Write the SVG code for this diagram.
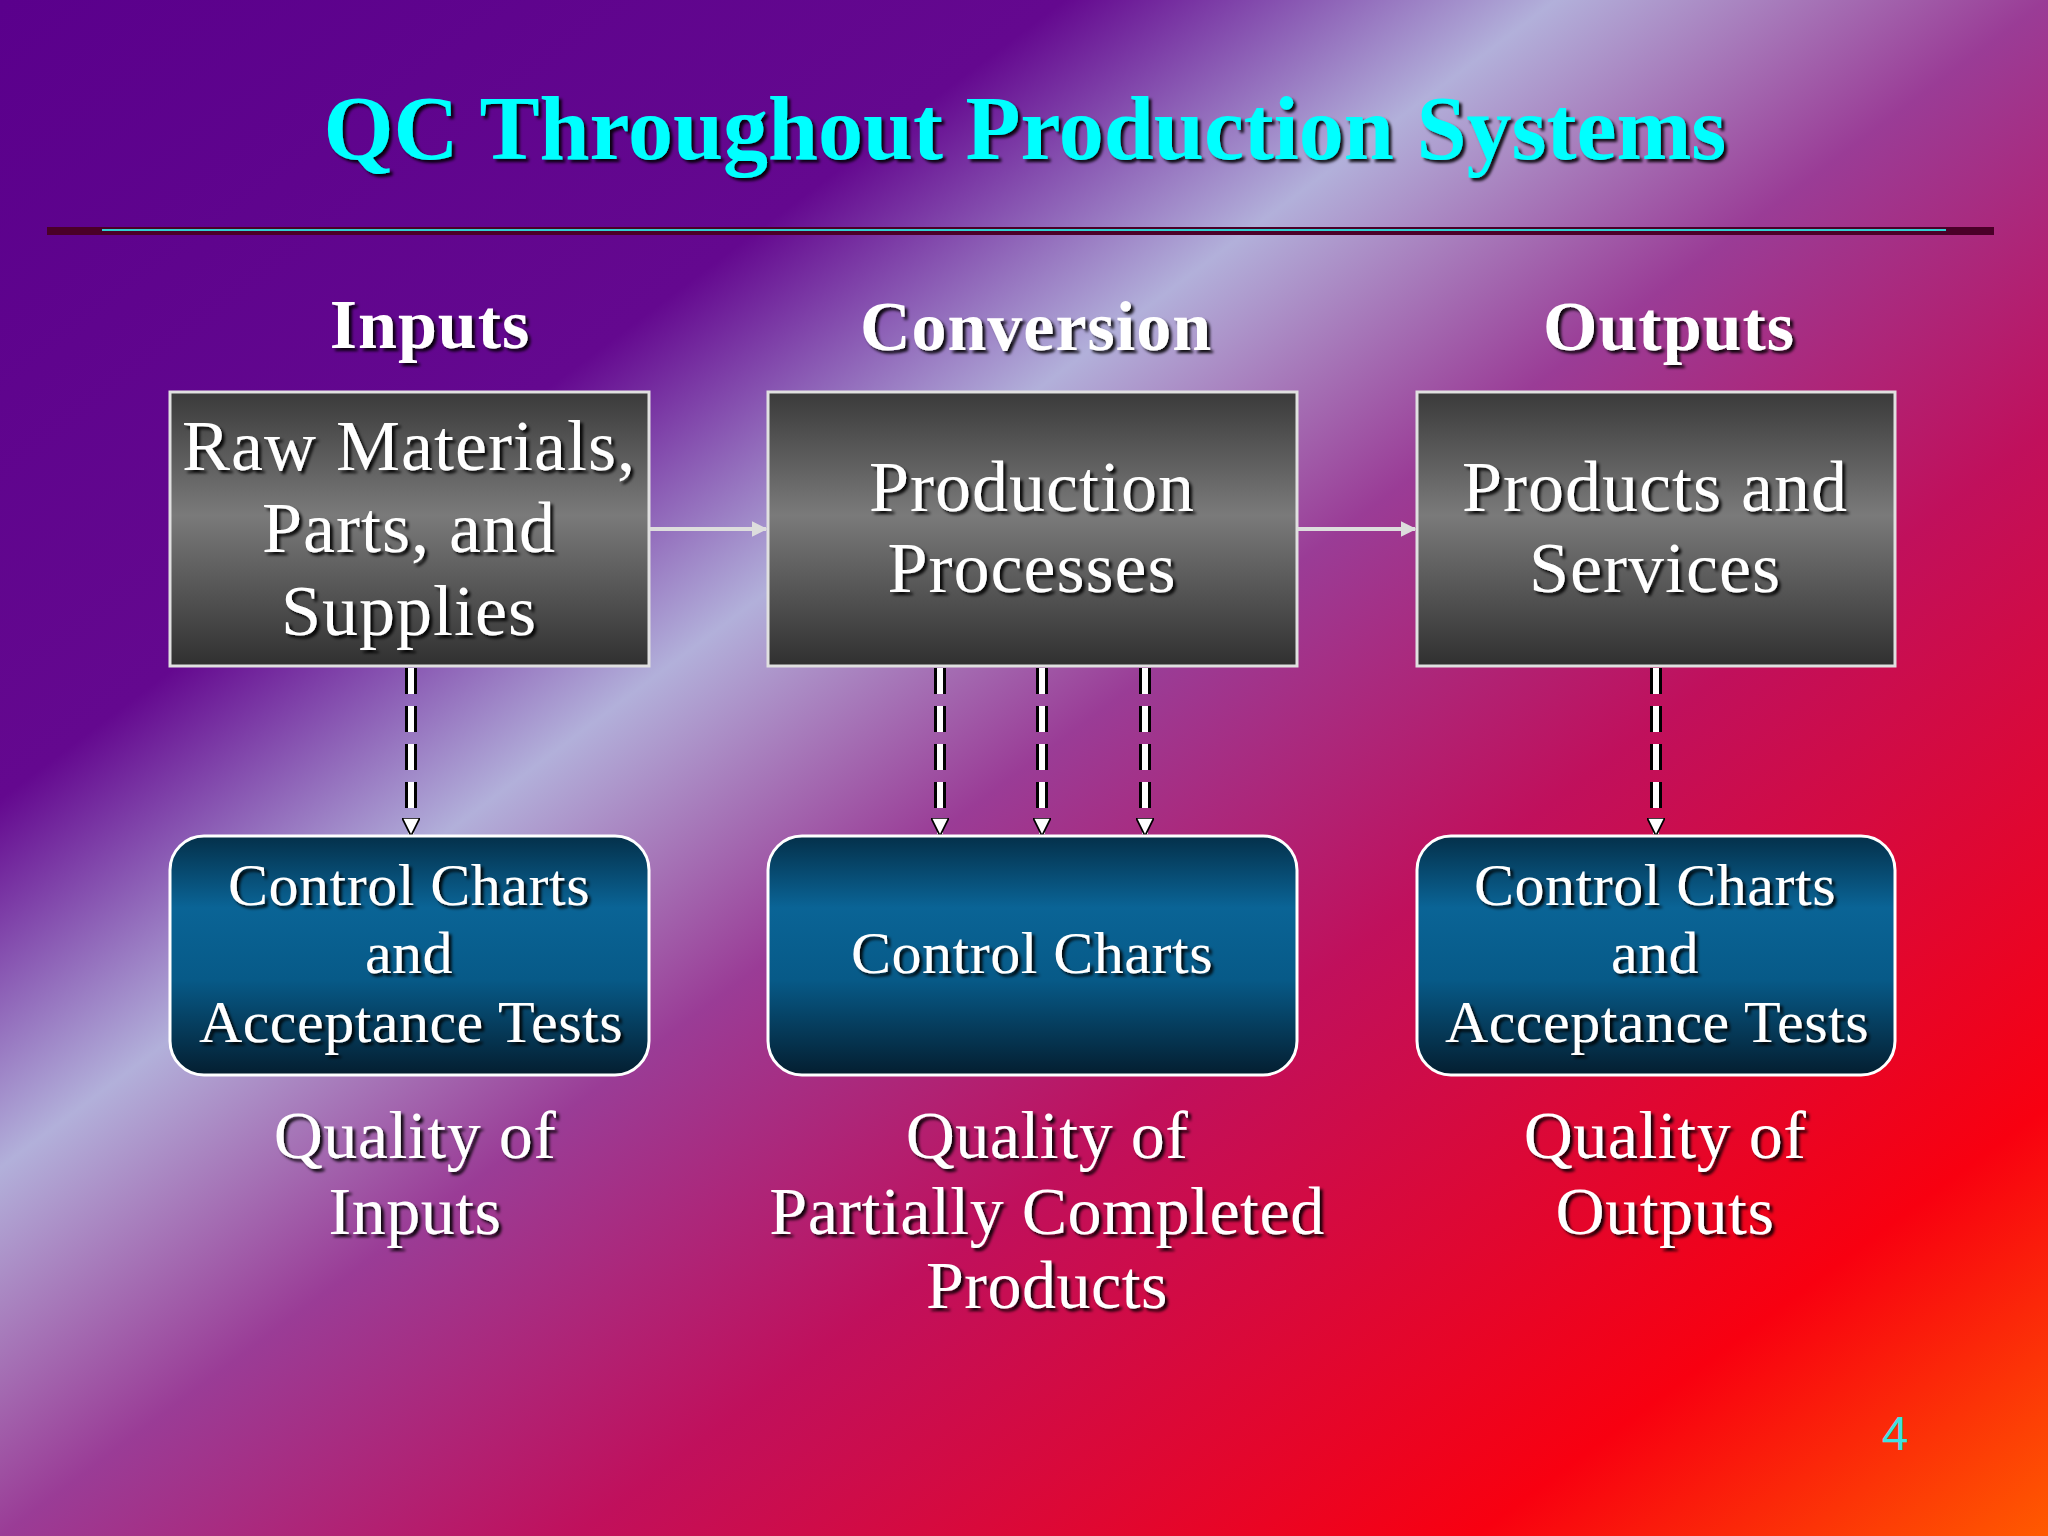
<svg xmlns="http://www.w3.org/2000/svg" width="2048" height="1536" viewBox="0 0 2048 1536">
<defs>
<linearGradient id="bg" gradientUnits="userSpaceOnUse" x1="0" y1="0" x2="1475" y2="1966">
<stop offset="0" stop-color="#5a008c"/>
<stop offset="0.26" stop-color="#64088f"/>
<stop offset="0.38" stop-color="#b2b0da"/>
<stop offset="0.5" stop-color="#9a3c96"/>
<stop offset="0.64" stop-color="#c0105c"/>
<stop offset="0.86" stop-color="#f80010"/>
<stop offset="1" stop-color="#ff5a00"/>
</linearGradient>
<linearGradient id="gray" x1="0" y1="0" x2="0" y2="1">
<stop offset="0" stop-color="#3a3a3a"/>
<stop offset="0.45" stop-color="#7a7a7a"/>
<stop offset="1" stop-color="#303030"/>
</linearGradient>
<linearGradient id="blue" x1="0" y1="0" x2="0" y2="1">
<stop offset="0" stop-color="#04304a"/>
<stop offset="0.3" stop-color="#0a6496"/>
<stop offset="0.6" stop-color="#075a88"/>
<stop offset="1" stop-color="#041e30"/>
</linearGradient>
<filter id="sh" x="-10%" y="-20%" width="130%" height="150%">
<feDropShadow dx="3" dy="3" stdDeviation="1.5" flood-color="#000" flood-opacity="0.9"/>
</filter>
<marker id="ah" viewBox="0 0 10 10" refX="9" refY="5" markerWidth="4" markerHeight="4" orient="auto">
<path d="M0,0 L10,5 L0,10 z" fill="#dddddd"/>
</marker>
<marker id="ahw" viewBox="0 0 10 10" refX="9" refY="5" markerWidth="3" markerHeight="3" orient="auto">
<path d="M0,0 L10,5 L0,10 z" fill="#ffffff" stroke="#000" stroke-width="1"/>
</marker>
<style>
text{font-family:"Liberation Serif","Times New Roman",serif;fill:#fff;text-anchor:middle;filter:url(#sh)}
.title{font-size:90px;font-weight:bold;fill:#00ffff}
.hd{font-size:70px;font-weight:bold;letter-spacing:1px}
.bx{font-size:72px;letter-spacing:1px}
.cb{font-size:60px;letter-spacing:0.5px}
.q{font-size:68px;letter-spacing:0.5px}
.box{fill:url(#gray);stroke:#e0e0e0;stroke-width:3}
.rbox{fill:url(#blue);stroke:#ffffff;stroke-width:3}
.h{stroke:#dddddd;stroke-width:4;fill:none;marker-end:url(#ah)}
.dk{stroke:#000;stroke-width:12;fill:none;stroke-dasharray:26 12}
.d{stroke:#fff;stroke-width:6;fill:none;stroke-dasharray:26 12;marker-end:url(#ahw)}
</style>
</defs>
<rect width="2048" height="1536" fill="url(#bg)"/>
<text class="title" x="1025" y="159">QC Throughout Production Systems</text>
<line x1="47" y1="231" x2="1994" y2="231" stroke="#4a0028" stroke-width="8"/>
<line x1="102" y1="230" x2="1946" y2="230" stroke="#30d0d0" stroke-width="2"/>
<text class="hd" x="430" y="348">Inputs</text>
<text class="hd" x="1036" y="350">Conversion</text>
<text class="hd" x="1669" y="350">Outputs</text>
<g id="connectors">
<line class="h" x1="650" y1="529" x2="766" y2="529"/>
<line class="h" x1="1298" y1="529" x2="1415" y2="529"/>
<line class="dk" x1="411" y1="668" x2="411" y2="818"/>
<line class="d" x1="411" y1="668" x2="411" y2="834"/>
<line class="dk" x1="940" y1="668" x2="940" y2="818"/>
<line class="d" x1="940" y1="668" x2="940" y2="834"/>
<line class="dk" x1="1042" y1="668" x2="1042" y2="818"/>
<line class="d" x1="1042" y1="668" x2="1042" y2="834"/>
<line class="dk" x1="1145" y1="668" x2="1145" y2="818"/>
<line class="d" x1="1145" y1="668" x2="1145" y2="834"/>
<line class="dk" x1="1656" y1="668" x2="1656" y2="818"/>
<line class="d" x1="1656" y1="668" x2="1656" y2="834"/>
</g>
<g id="raw">
<rect class="box" x="170" y="392" width="479" height="274"/>
<text class="bx" x="409" y="470">Raw Materials,</text>
<text class="bx" x="409" y="552">Parts, and</text>
<text class="bx" x="409" y="635">Supplies</text>
</g>
<g id="prod">
<rect class="box" x="768" y="392" width="529" height="274"/>
<text class="bx" x="1032" y="511">Production</text>
<text class="bx" x="1032" y="592">Processes</text>
</g>
<g id="out">
<rect class="box" x="1417" y="392" width="478" height="274"/>
<text class="bx" x="1655" y="511">Products and</text>
<text class="bx" x="1655" y="592">Services</text>
</g>
<g id="cc1">
<rect class="rbox" x="170" y="836" width="479" height="239" rx="34"/>
<text class="cb" x="409" y="905">Control Charts</text>
<text class="cb" x="409" y="973">and</text>
<text class="cb" x="411" y="1042">Acceptance Tests</text>
</g>
<g id="cc2">
<rect class="rbox" x="768" y="836" width="529" height="239" rx="34"/>
<text class="cb" x="1032" y="973">Control Charts</text>
</g>
<g id="cc3">
<rect class="rbox" x="1417" y="836" width="478" height="239" rx="34"/>
<text class="cb" x="1655" y="905">Control Charts</text>
<text class="cb" x="1655" y="973">and</text>
<text class="cb" x="1657" y="1042">Acceptance Tests</text>
</g>
<text class="q" x="415" y="1158">Quality of</text>
<text class="q" x="415" y="1234">Inputs</text>
<text class="q" x="1047" y="1158">Quality of</text>
<text class="q" x="1047" y="1234">Partially Completed</text>
<text class="q" x="1047" y="1308">Products</text>
<text class="q" x="1665" y="1158">Quality of</text>
<text class="q" x="1665" y="1234">Outputs</text>
<text x="1895" y="1450" style="font-family:'Liberation Sans',Arial,sans-serif;font-size:48px;fill:#40e0e0;filter:none">4</text>
</svg>
